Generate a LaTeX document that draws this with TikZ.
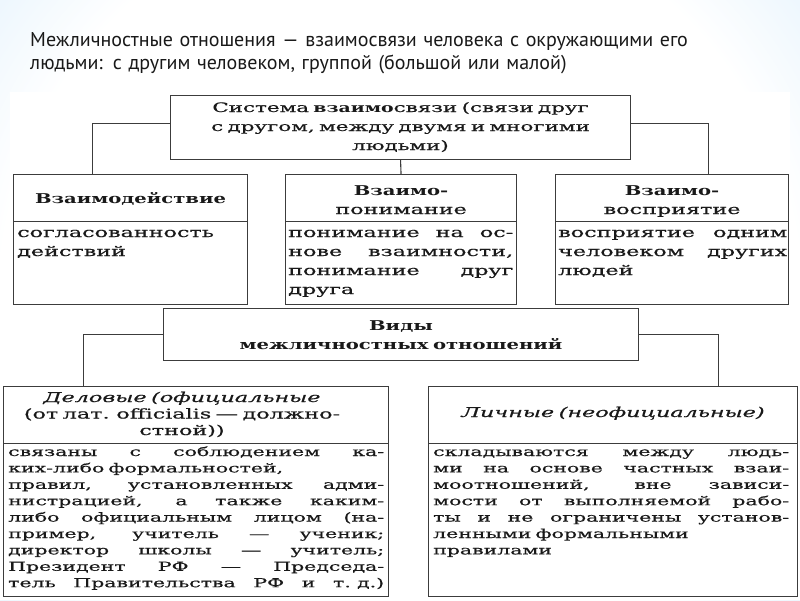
\documentclass[tikz,border=0pt]{standalone}
\usepackage{fontspec}
\setmainfont{DejaVu Serif}[FakeStretch=1.65, UprightFeatures={FakeBold=0.6}, ItalicFeatures={FakeBold=0.6},
  BoldFeatures={FakeStretch=1.45}]
\newfontfamily\slidefont{PT Sans}
\usetikzlibrary{positioning}

\definecolor{slideblue}{RGB}{150,206,246}
\definecolor{rulegray}{RGB}{60,60,60}
\definecolor{inkgray}{RGB}{25,25,25}
\pgfdeclareradialshading{slideglow}{\pgfpoint{0bp}{0bp}}{color(0bp)=(white); color(20bp)=(white); color(50bp)=(slideblue)}

\newcommand{\upsize}{\fontsize{13.5}{19}\selectfont}
\newcommand{\lowsize}{\fontsize{12.4}{16.4}\selectfont}
\newlength{\linew}
\newcommand{\jl}[1]{\makebox[\linew][s]{\spaceskip=\fontdimen2\font plus 1fil\relax#1}}

\begin{document}
\begin{tikzpicture}[x=1pt, y=-1pt,
    frame/.style={draw=rulegray, line width=1.1pt, fill=white, inner sep=0pt, anchor=north west},
    link/.style={draw=rulegray, line width=1.1pt},
    split/.style={draw=rulegray, line width=0.9pt},
    head/.style={text=inkgray, align=center, inner sep=0pt, anchor=base},
    body/.style={text=inkgray, align=left, inner sep=0pt, anchor=base west,
                 text width=#1, execute at begin node={\setlength{\linew}{#1}}}]

    % Slide background
    \useasboundingbox (0,0) rectangle (800,600);
    \begin{scope}
      \clip (0,0) rectangle (800,600);
      \shade[shading=slideglow] (-100,-200) rectangle (900,800);
    \end{scope}
    \fill[white] (10,92) rectangle (790,305);
    \fill[white] (0,305) rectangle (800,600);

    % Title
    \node[anchor=base west, inner sep=0pt, text width=760pt, align=left, text=black!90,
          font=\slidefont\fontsize{20}{23}\selectfont] (title) at (30,46)
        {Межличностные отношения — взаимосвязи человека с окружающими его\\людьми: с другим человеком, группой (большой или малой)};

    % --- Upper scheme ---
    \node[frame, minimum width=460pt, minimum height=64pt] (sys) at (170,95) {};
    \node[head, font=\fontsize{13}{19}\selectfont, text width=450pt] (sysT) at (sys.center |- 0,112)
        {Система \textbf{взаимо}связи (связи друг\\с другом, между двумя и многими\\людьми)};

    \node[frame, minimum width=234pt, minimum height=130pt] (inter) at (13,174) {};
    \node[frame, minimum width=231pt, minimum height=130pt] (under) at (285,174) {};
    \node[frame, minimum width=233pt, minimum height=130pt] (percep) at (555,174) {};
    \foreach \b in {inter, under, percep}
      \draw[split] (\b.west |- 0,221) -- (\b.east |- 0,221);

    \draw[link] ([yshift=4pt]sys.west) -| ([xshift=-38pt]inter.north);
    \draw[link] (sys.south) -- (under.north);
    \draw[link] ([yshift=4pt]sys.east) -| ([xshift=36pt]percep.north);

    \node[head, font=\upsize\bfseries, text width=230pt] (interH) at (inter.center |- 0,203) {Взаимодействие};
    \node[head, font=\upsize, text width=225pt] (underH) at (under.center |- 0,195) {\textbf{Взаимо-}\\понимание};
    \node[head, font=\upsize, text width=225pt] (percepH) at (percep.center |- 0,195) {\textbf{Взаимо-}\\восприятие};

    \node[body=226pt, font=\upsize] (interB) at (17,237) {согласованность\\действий};
    \node[body=225pt, font=\upsize] (underB) at (288,237)
        {\jl{понимание на ос-}\\\jl{нове взаимности,}\\\jl{понимание друг}\\друга};
    \node[body=229pt, font=\upsize] (percepB) at (558,237)
        {\jl{восприятие одним}\\\jl{человеком других}\\людей};

    % --- Lower scheme ---
    \node[frame, minimum width=475pt, minimum height=52pt] (kinds) at (163,308) {};
    \node[head, font=\upsize\bfseries, text width=465pt] (kindsT) at (kinds.center |- 0,330)
        {Виды\\межличностных отношений};

    \node[frame, minimum width=385pt, minimum height=210pt] (formal) at (3,386) {};
    \node[frame, minimum width=369pt, minimum height=210pt] (personal) at (428,386) {};
    \foreach \b in {formal, personal}
      \draw[split] (\b.west |- 0,443) -- (\b.east |- 0,443);

    \draw[link] (kinds.west) -| ([xshift=-113pt]formal.north);
    \draw[link] (kinds.east) -| ([xshift=105pt]personal.north);

    \node[head, font=\fontsize{13.5}{16.5}\selectfont, text width=370pt] (formalH) at (182,402)
        {\textit{Деловые (официальные}\\(от лат. officialis — должно-\\стной))};
    \node[head, font=\upsize, text width=365pt] (personalH) at (personal.center |- 0,417)
        {\textit{Личные (неофициальные)}};

    \node[body=376pt, font=\lowsize] (formalB) at (8,456)
        {\jl{связаны с соблюдением ка-}\\ких-либо формальностей,\\\jl{правил, установленных адми-}\\%
         \jl{нистрацией, а также каким-}\\\jl{либо официальным лицом (на-}\\\jl{пример, учитель — ученик;}\\%
         \jl{директор школы — учитель;}\\\jl{Президент РФ — Председа-}\\\jl{тель Правительства РФ и т. д.)}};
    \node[body=356pt, font=\lowsize] (personalB) at (433,456)
        {\jl{складываются между людь-}\\\jl{ми на основе частных взаи-}\\\jl{моотношений, вне зависи-}\\%
         \jl{мости от выполняемой рабо-}\\\jl{ты и не ограничены установ-}\\ленными формальными\\правилами};

\end{tikzpicture}
\end{document}
